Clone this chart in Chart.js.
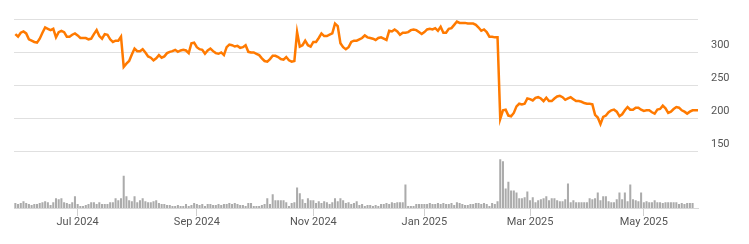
<!DOCTYPE html>
<html>
<head>
<meta charset="utf-8">
<script src="https://cdn.jsdelivr.net/npm/chart.js@4.4.1/dist/chart.umd.min.js"></script>
<style>
  html, body { margin: 0; padding: 0; background: #fff; }
  #wrap { width: 749px; height: 244px; }
</style>
</head>
<body>
<div id="wrap"><canvas id="stockChart"></canvas></div>
<script>
// Daily closing price, one value per trading day (late May 2024 -> end of May 2025)
const prices = [
    328, 324, 330, 332, 329, 320, 318, 316, 315, 321,
    330, 338, 336, 334, 336, 323, 331, 333, 331, 324,
    324, 327, 329, 326, 322, 322, 322, 320, 321, 328,
    334, 325, 321, 328, 327, 320, 316, 318, 318, 324,
    278, 283, 287, 297, 306, 302, 302, 305, 300, 294,
    292, 288, 291, 296, 292, 294, 299, 301, 302, 304,
    301, 303, 304, 303, 299, 314, 315, 308, 305, 304,
    298, 303, 306, 302, 299, 298, 300, 296, 308, 312,
    311, 309, 310, 307, 308, 311, 301, 300, 300, 298,
    296, 291, 287, 286, 290, 295, 295, 293, 290, 289,
    293, 288, 286, 287, 331, 309, 311, 318, 311, 309,
    316, 316, 322, 329, 325, 325, 327, 329, 344, 340,
    314, 308, 305, 308, 316, 318, 318, 320, 322, 326,
    323, 322, 321, 319, 322, 323, 321, 319, 333, 332,
    335, 332, 327, 330, 330, 331, 334, 335, 334, 331,
    328, 331, 335, 336, 335, 337, 333, 339, 330, 330,
    336, 337, 342, 347, 345, 345, 345, 344, 344, 344,
    342, 338, 333, 335, 331, 324, 324, 323, 323, 199,
    212, 213, 204, 203, 208, 218, 222, 221, 222, 230,
    229, 227, 231, 232, 230, 226, 231, 226, 226, 230,
    233, 234, 232, 228, 230, 232, 229, 226, 226, 225,
    223, 222, 222, 221, 205, 201, 191, 202, 204, 209,
    212, 213, 210, 203, 206, 212, 217, 213, 213, 216,
    216, 213, 211, 212, 212, 209, 207, 213, 214, 219,
    215, 208, 210, 214, 217, 216, 212, 210, 207, 210,
    212, 212, 212
];

// Traded volume per day (relative units)
const volumes = [
    5, 4, 5, 7, 5, 4, 3, 4, 4, 5,
    6, 7, 6, 3, 6, 10, 9, 10, 6, 5,
    4, 6, 12, 4, 2, 2, 3, 4, 6, 6,
    4, 6, 4, 4, 4, 6, 6, 10, 8, 10,
    33, 12, 8, 7, 12, 6, 8, 10, 7, 6,
    6, 7, 8, 5, 4, 4, 3, 3, 2, 2,
    3, 2, 2, 4, 2, 3, 5, 4, 3, 4,
    2, 4, 4, 3, 3, 4, 3, 4, 4, 5,
    4, 5, 4, 3, 3, 2, 5, 5, 2, 2,
    2, 3, 4, 10, 4, 14, 8, 8, 8, 8,
    6, 2, 5, 6, 21, 15, 9, 5, 10, 8,
    8, 5, 7, 5, 7, 6, 4, 6, 10, 7,
    10, 8, 5, 6, 4, 5, 7, 3, 4, 2,
    3, 3, 2, 3, 2, 4, 4, 5, 4, 6,
    5, 6, 6, 6, 24, 2, 2, 2, 4, 4,
    4, 4, 4, 5, 4, 4, 5, 4, 5, 4,
    4, 5, 3, 6, 5, 4, 3, 3, 4, 4,
    5, 5, 4, 5, 4, 2, 5, 4, 7, 50,
    48, 20, 27, 18, 18, 16, 10, 10, 11, 17,
    8, 11, 6, 8, 9, 10, 12, 8, 10, 10,
    8, 7, 7, 9, 25, 6, 8, 6, 6, 6,
    6, 6, 10, 9, 10, 16, 8, 12, 12, 7,
    6, 6, 9, 16, 9, 16, 7, 24, 9, 8,
    7, 16, 6, 7, 6, 6, 8, 6, 6, 5,
    6, 6, 6, 6, 6, 4, 5, 4, 5, 5,
    5, null, null
];

// Month tick labels and the trading-day index where each month starts
const monthLabels = ['Jul 2024', 'Sep 2024', 'Nov 2024', 'Jan 2025', 'Mar 2025', 'May 2025'];
const monthStarts = [23, 67, 110, 151, 190, 232];

// Price axis tick values (top line has no label)
const priceTicks = [150, 200, 250, 300, 350];

const textColor = '#555';
const gridColor = '#e0e0e0';
const font = { family: 'Roboto, Arial, sans-serif', size: 11 };

const ctx = document.getElementById('stockChart');
new Chart(ctx, {
    data: {
        datasets: [
            {
                type: 'line',
                label: 'Price',
                data: prices.map((p, i) => ({ x: i, y: p })),
                yAxisID: 'y',
                borderColor: '#ff7a00',
                borderWidth: 2.5,
                pointRadius: 0,
                tension: 0,
                order: 0
            },
            {
                type: 'bar',
                label: 'Volume',
                data: volumes.map((v, i) => ({ x: i, y: v })),
                yAxisID: 'yVol',
                backgroundColor: '#ababab',
                barPercentage: 0.75,
                categoryPercentage: 1,
                order: 1
            }
        ]
    },
    options: {
        responsive: true,
        maintainAspectRatio: false,
        animation: false,
        layout: { padding: { left: 14, top: 15, right: 0, bottom: 0 } },
        plugins: {
            legend: { display: false },
            tooltip: { enabled: false }
        },
        scales: {
            x: {
                type: 'linear',
                offset: false,
                min: -0.5,
                max: 252,
                afterBuildTicks: (scale) => {
                    scale.ticks = monthStarts.map((v) => ({ value: v }));
                },
                afterFit: (scale) => { scale.height = 36; },
                ticks: {
                    autoSkip: false,
                    maxRotation: 0,
                    padding: 0,
                    color: textColor,
                    font: font,
                    callback: (v) => monthLabels[monthStarts.indexOf(v)]
                },
                grid: {
                    offset: false,
                    drawOnChartArea: false,
                    drawTicks: true,
                    tickLength: 8,
                    color: '#d0d0d0'
                },
                border: { display: true, color: '#d8d8d8' }
            },
            y: {
                position: 'right',
                min: 63.4,
                max: 350,
                afterBuildTicks: (scale) => {
                    scale.ticks = priceTicks.map((v) => ({ value: v }));
                },
                afterFit: (scale) => { scale.width = 51; },
                ticks: {
                    padding: 13,
                    labelOffset: -7,
                    color: textColor,
                    font: font,
                    callback: (v) => (v === 350 ? '' : v)
                },
                grid: { color: gridColor, drawTicks: false },
                border: { display: false }
            },
            yVol: {
                position: 'right',
                display: false,
                min: 0,
                max: 193
            }
        }
    }
});
</script>
</body>
</html>
